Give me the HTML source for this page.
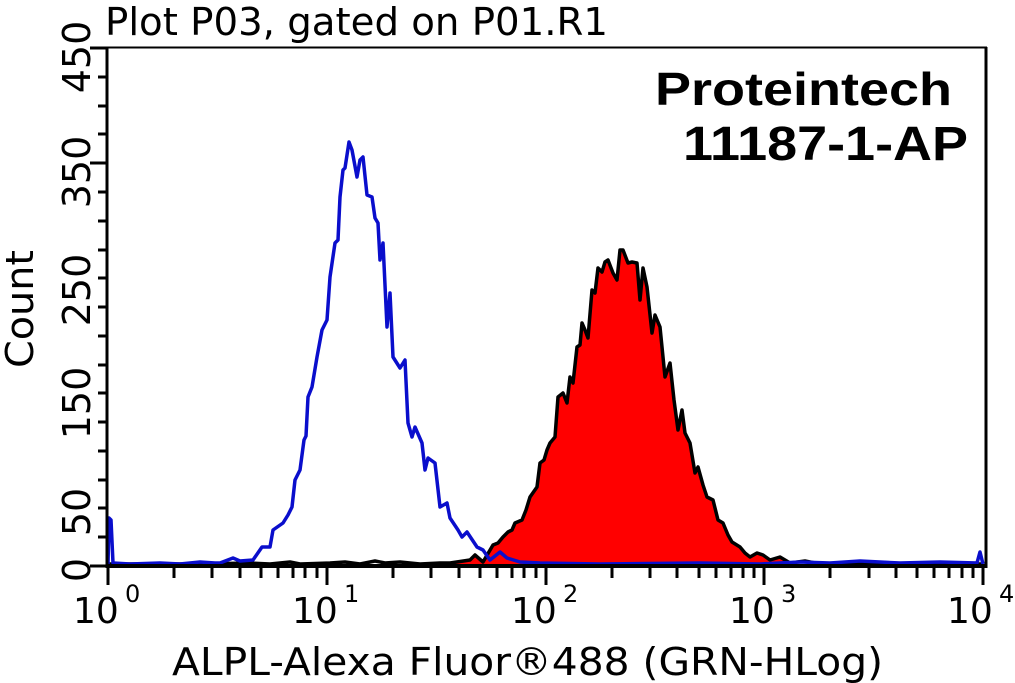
<!DOCTYPE html>
<html>
<head>
<meta charset="utf-8">
<style>
html,body{margin:0;padding:0;background:#fff;}
svg{display:block;}
text{font-family:"DejaVu Sans","Liberation Sans",sans-serif;fill:#000;}
.b{font-family:"Liberation Sans",Arial,sans-serif;font-weight:bold;}
</style>
</head>
<body>
<svg width="1015" height="683" viewBox="0 0 1015 683" xmlns="http://www.w3.org/2000/svg">
<rect x="0" y="0" width="1015" height="683" fill="#fff"/>

<!-- title -->
<text x="105" y="35" font-size="38" textLength="503" lengthAdjust="spacingAndGlyphs">Plot P03, gated on P01.R1</text>

<!-- red filled histogram -->
<path fill="#ff0000" stroke="none" d="M450,565 L450,563 L470,560 L475,555 L483,562 L493,545 L498,543 L503,537 L508,532 L512,530 L515,523 L522,520 L526,510 L530,497 L537,487 L540,463 L544,460 L547,450 L550,443 L555,437 L558,397 L563,393 L567,403 L570,377 L573,383 L577,347 L580,345 L582,323 L585,330 L588,338 L592,290 L595,293 L598,268 L602,272 L605,262 L608,260 L613,273 L617,280 L620,250 L623,250 L628,263 L632,262 L637,263 L640,300 L643,268 L647,287 L652,333 L655,315 L660,327 L665,377 L670,363 L674,400 L678,430 L682,410 L685,433 L690,443 L695,473 L698,467 L703,485 L707,497 L713,500 L718,520 L723,523 L728,535 L732,542 L740,547 L745,553 L750,557 L757,553 L763,555 L770,560 L780,557 L790,563 L790,565 Z"/>

<!-- black outline -->
<polyline fill="none" stroke="#000" stroke-width="3.5" stroke-linejoin="round" points="108,564 200,564 250,563 270,564 290,562 300,564 330,563 345,562 360,564 375,561 385,563 400,562 420,564 440,563 450,563 470,560 475,555 483,562 493,545 498,543 503,537 508,532 512,530 515,523 522,520 526,510 530,497 537,487 540,463 544,460 547,450 550,443 555,437 558,397 563,393 567,403 570,377 573,383 577,347 580,345 582,323 585,330 588,338 592,290 595,293 598,268 602,272 605,262 608,260 613,273 617,280 620,250 623,250 628,263 632,262 637,263 640,300 643,268 647,287 652,333 655,315 660,327 665,377 670,363 674,400 678,430 682,410 685,433 690,443 695,473 698,467 703,485 707,497 713,500 718,520 723,523 728,535 732,542 740,547 745,553 750,557 757,553 763,555 770,560 780,557 790,563 805,561 820,564 850,563 900,564 983,564"/>

<!-- blue histogram -->
<polyline fill="none" stroke="#0a0ecc" stroke-width="3.5" stroke-linejoin="round" points="108,565 109,518 111,520 113,563 130,564 160,563 180,564 200,562 215,563 220,563 233,558 240,561 253,560 262,547 270,547 273,530 283,523 288,515 292,507 295,480 300,470 304,440 306,436 308,397 312,387 317,357 322,330 327,320 330,277 335,243 338,240 340,197 343,170 345,168 349,142 352,150 357,177 360,160 363,157 367,195 372,197 375,218 378,223 380,260 383,243 387,327 390,293 393,357 400,368 405,360 408,423 412,437 415,427 422,443 425,470 428,458 435,463 440,507 447,503 450,518 458,530 462,537 467,532 477,547 483,550 490,560 500,552 507,558 520,562 540,563 600,564 700,563 760,564 800,562 830,563 860,561 900,563 940,562 977,563 980,552 983,564"/>

<!-- frame -->
<line x1="107" y1="47.5" x2="987" y2="47.5" stroke="#000" stroke-width="2"/>
<line x1="986" y1="47" x2="986" y2="568" stroke="#000" stroke-width="3"/>
<line x1="107" y1="47" x2="107" y2="568" stroke="#000" stroke-width="3"/>
<line x1="106" y1="566" x2="987" y2="566" stroke="#000" stroke-width="4"/>

<!-- y ticks -->
<g stroke="#000" stroke-width="3">
<line x1="90" y1="48" x2="107" y2="48"/>
<line x1="98" y1="77" x2="107" y2="77"/>
<line x1="98" y1="106" x2="107" y2="106"/>
<line x1="98" y1="134" x2="107" y2="134"/>
<line x1="90" y1="163" x2="107" y2="163"/>
<line x1="98" y1="192" x2="107" y2="192"/>
<line x1="98" y1="221" x2="107" y2="221"/>
<line x1="98" y1="250" x2="107" y2="250"/>
<line x1="98" y1="278" x2="107" y2="278"/>
<line x1="98" y1="307" x2="107" y2="307"/>
<line x1="98" y1="336" x2="107" y2="336"/>
<line x1="98" y1="365" x2="107" y2="365"/>
<line x1="98" y1="393" x2="107" y2="393"/>
<line x1="98" y1="422" x2="107" y2="422"/>
<line x1="98" y1="451" x2="107" y2="451"/>
<line x1="98" y1="480" x2="107" y2="480"/>
<line x1="98" y1="508" x2="107" y2="508"/>
<line x1="98" y1="537" x2="107" y2="537"/>
<line x1="90" y1="566" x2="107" y2="566"/>
</g>

<!-- y labels -->
<g font-size="38" text-anchor="middle">
<text transform="translate(90,57) rotate(-90)">450</text>
<text transform="translate(90,172) rotate(-90)">350</text>
<text transform="translate(90,290) rotate(-90)">250</text>
<text transform="translate(90,403) rotate(-90)">150</text>
<text transform="translate(90,512) rotate(-90)">50</text>
<text transform="translate(90,570) rotate(-90)">0</text>
</g>
<text transform="translate(33,309) rotate(-90)" font-size="38" text-anchor="middle" textLength="118" lengthAdjust="spacingAndGlyphs">Count</text>

<!-- x ticks -->
<g stroke="#000" stroke-width="3">
<line x1="108" y1="566" x2="108" y2="585"/>
<line x1="174" y1="566" x2="174" y2="578"/>
<line x1="212" y1="566" x2="212" y2="578"/>
<line x1="240" y1="566" x2="240" y2="578"/>
<line x1="261" y1="566" x2="261" y2="578"/>
<line x1="278" y1="566" x2="278" y2="578"/>
<line x1="293" y1="566" x2="293" y2="578"/>
<line x1="305" y1="566" x2="305" y2="578"/>
<line x1="317" y1="566" x2="317" y2="578"/>
<line x1="327" y1="566" x2="327" y2="585"/>
<line x1="393" y1="566" x2="393" y2="578"/>
<line x1="431" y1="566" x2="431" y2="578"/>
<line x1="459" y1="566" x2="459" y2="578"/>
<line x1="480" y1="566" x2="480" y2="578"/>
<line x1="497" y1="566" x2="497" y2="578"/>
<line x1="512" y1="566" x2="512" y2="578"/>
<line x1="524" y1="566" x2="524" y2="578"/>
<line x1="536" y1="566" x2="536" y2="578"/>
<line x1="546" y1="566" x2="546" y2="585"/>
<line x1="612" y1="566" x2="612" y2="578"/>
<line x1="650" y1="566" x2="650" y2="578"/>
<line x1="677" y1="566" x2="677" y2="578"/>
<line x1="699" y1="566" x2="699" y2="578"/>
<line x1="716" y1="566" x2="716" y2="578"/>
<line x1="731" y1="566" x2="731" y2="578"/>
<line x1="743" y1="566" x2="743" y2="578"/>
<line x1="754" y1="566" x2="754" y2="578"/>
<line x1="764" y1="566" x2="764" y2="585"/>
<line x1="830" y1="566" x2="830" y2="578"/>
<line x1="869" y1="566" x2="869" y2="578"/>
<line x1="896" y1="566" x2="896" y2="578"/>
<line x1="917" y1="566" x2="917" y2="578"/>
<line x1="934" y1="566" x2="934" y2="578"/>
<line x1="949" y1="566" x2="949" y2="578"/>
<line x1="962" y1="566" x2="962" y2="578"/>
<line x1="973" y1="566" x2="973" y2="578"/>
<line x1="983" y1="566" x2="983" y2="585"/>
</g>

<!-- x labels -->
<g font-size="36">
<text x="73" y="623">10</text>
<text x="292" y="623">10</text>
<text x="511" y="623">10</text>
<text x="729" y="623">10</text>
<text x="947" y="623">10</text>
</g>
<g font-size="24">
<text x="125" y="602">0</text>
<text x="344" y="602">1</text>
<text x="563" y="602">2</text>
<text x="781" y="602">3</text>
<text x="999" y="602">4</text>
</g>

<text x="172" y="675" font-size="38" textLength="711" lengthAdjust="spacingAndGlyphs">ALPL-Alexa Fluor®488 (GRN-HLog)</text>

<!-- brand -->
<text class="b" x="655" y="105" font-size="46" textLength="297" lengthAdjust="spacingAndGlyphs">Proteintech</text>
<text class="b" x="683" y="160" font-size="48" textLength="285" lengthAdjust="spacingAndGlyphs">11187-1-AP</text>
</svg>
</body>
</html>
